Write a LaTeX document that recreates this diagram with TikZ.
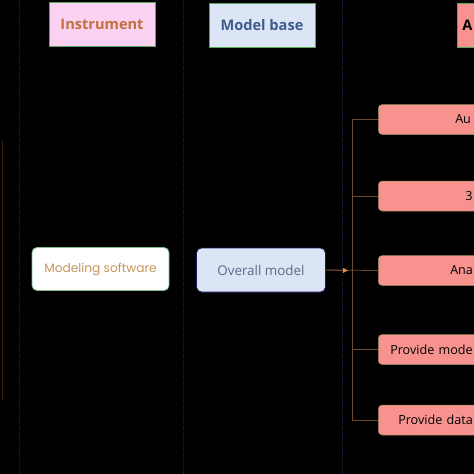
\documentclass[tikz,border=0pt]{standalone}
\usepackage{fontspec}
\setmainfont{Open Sans}
\newfontfamily\popfont{Poppins}
\usetikzlibrary{arrows.meta,positioning}
\definecolor{lanecol}{HTML}{1E1E40}
\definecolor{buscol}{HTML}{6E4A2E}
\definecolor{tipcol}{HTML}{E08A3A}
\definecolor{headpink}{HTML}{FCD2F2}
\definecolor{headblue}{HTML}{DCE5F5}
\definecolor{salmon}{HTML}{F8928E}
\definecolor{instbrown}{HTML}{C0703C}
\definecolor{basetext}{HTML}{3E5C8C}
\definecolor{softtext}{HTML}{C8955C}
\definecolor{overtext}{HTML}{5A6A8A}
\definecolor{softedge}{HTML}{7FB88A}

\begin{document}
\begin{tikzpicture}[x=1pt,y=-1pt,
  lane/.style={lanecol, densely dotted, line width=0.8pt},
  busline/.style={buscol, line width=0.8pt},
  head/.style={draw=gray!70!green, line width=0.6pt, inner sep=0pt, font=\bfseries\fontsize{14.6}{16}\selectfont},
  item/.style={draw, rounded corners=5pt, line width=0.8pt, inner sep=0pt, minimum height=43pt, font=\fontsize{12.5}{14}\selectfont},
  outbox/.style={draw=gray!60!olive, fill=salmon, rounded corners=4pt, line width=0.5pt, anchor=west,
    minimum height=30pt, text width=180pt, align=left, inner ysep=0pt, font=\fontsize{12.6}{14}\selectfont}]

% Black page
\fill[black] (0,0) rectangle (474,474);
\useasboundingbox (0,0) rectangle (474,474);
\clip (0,0) rectangle (474,474);

% Swim lane borders
\foreach \x in {19,183,342}
  \draw[lane] (\x,0) -- (\x,474);
\draw[busline, buscol!45!black] (2,140) -- (2,400);

% Lane headers
\node[head, fill=headpink, text=instbrown, minimum width=106pt, minimum height=44pt] (hinst) at (102,24) {Instrument};
\node[head, fill=headblue, text=basetext, minimum width=106pt, minimum height=44pt] (hbase) at (262,25) {Model base};
\node[head, fill=salmon, text=black, anchor=west, minimum width=60pt, minimum height=44pt, text width=50pt, align=left, inner xsep=5pt] (happ) at (457,25) {A};

% Lane items
\node[item, draw=softedge, fill=white, text=softtext, minimum width=137pt, font=\popfont\fontsize{12.2}{14}\selectfont] (soft) at (100.5,269) {Modeling software};
\node[item, draw=gray!40!blue!50!black, fill=headblue, text=overtext, minimum width=129pt, minimum height=44pt, font=\fontsize{13.4}{15}\selectfont] (overall) at (261,270) {Overall model};

% Application boxes
\node[outbox, inner xsep=77pt] (b1) at (378,119.5) {Au};
\node[outbox, inner xsep=87pt] (b2) at (378,196) {3};
\node[outbox, inner xsep=72pt] (b3) at (378,270.5) {Ana};
\node[outbox, inner xsep=12pt] (b4) at (378,349.5) {Provide mode};
\node[outbox, inner xsep=20pt] (b5) at (378,420) {Provide data};

% Bus from the overall model to the boxes
\coordinate (bus) at (352,270.5);
\draw[busline] (overall.east) -- (b3.west);
\draw[busline, -{Triangle[length=5pt,width=5pt,color=tipcol]}] (overall.east) -- (348,270.5);
\draw[busline] (b1.west -| bus) -- (b5.west -| bus);
\foreach \b in {b1,b2,b4,b5}
  \draw[busline] (\b.west -| bus) -- (\b.west);

\end{tikzpicture}
\end{document}
